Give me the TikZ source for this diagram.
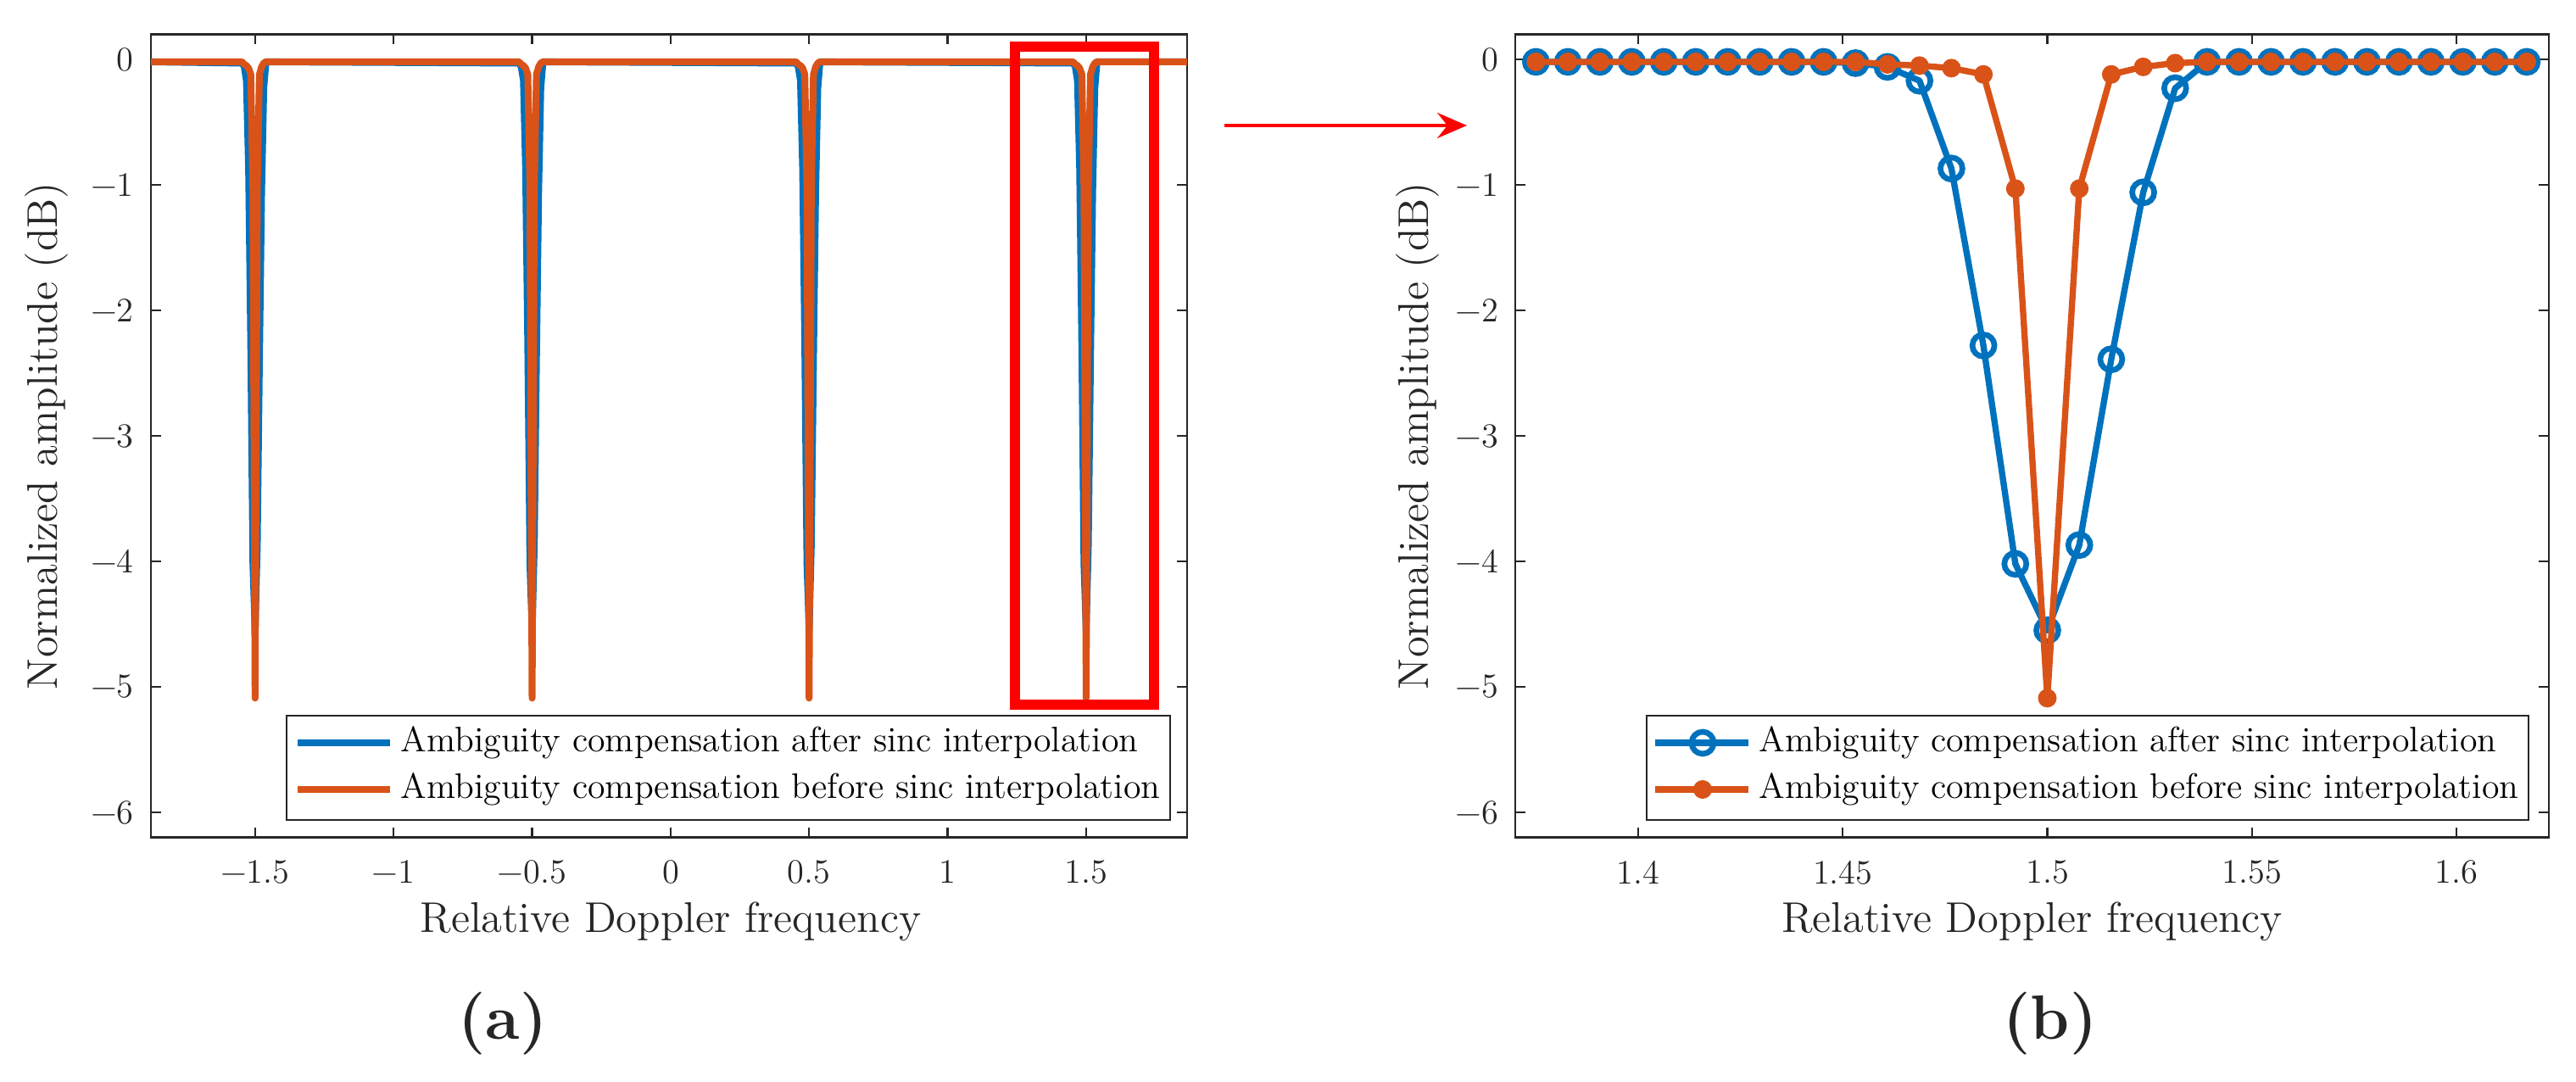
\documentclass[tikz,border=0pt]{standalone}
\usepackage{fontspec}
\usetikzlibrary{arrows.meta}
\definecolor{mblue}{HTML}{0072BD}
\definecolor{morange}{HTML}{D95319}
\newcommand{\fs}[1]{\fontsize{#1}{#1}\selectfont}
\tikzset{
  frame/.style={draw=black!85, line width=0.7pt},
  tick/.style={draw=black!85, line width=0.7pt},
  ticklab/.style={font=\fs{11.5pt}, text=black!85},
  axlab/.style={font=\fs{14.4pt}, text=black!85},
  legtext/.style={font=\fs{11.9pt}, text=black, anchor=west, inner sep=0pt},
  bmark/.style={circle, draw=mblue, line width=1.9pt, minimum size=0.26cm, inner sep=0pt},
  omark/.style={circle, fill=morange, minimum size=0.22cm, inner sep=0pt},
}
\begin{document}
\begin{tikzpicture}
\useasboundingbox (0,0) rectangle (30.38,12.75);
\def\olist{-0.02/-6,-0.04/-5,-0.05/-4,-0.07/-3,-0.12/-2,-1.03/-1,-5.09/0,-1.03/1,-0.12/2,-0.06/3,-0.03/4,-0.02/5}
% ---------- left plot ----------
\begin{scope}[shift={(7.909,12.05)}, xscale=3.267, yscale=1.48]
  \draw[frame] (-1.876,-6.2) rectangle (1.864,0.2);
  \foreach \v in {0,-1,...,-6}{
    \draw[tick] (-1.876,\v) -- ++(0.037,0);
    \draw[tick] (1.864,\v) -- ++(-0.037,0);
    \node[ticklab, anchor=east] at (-1.90,\v) {\ifnum\v<0 −\fi\the\numexpr-\v\relax};
  }
  \foreach \x/\l in {-1.5/−1.5,-1/−1,-0.5/−0.5,0/0,0.5/0.5,1/1,1.5/1.5}{
    \draw[tick] (\x,-6.2) -- ++(0,0.08);
    \draw[tick] (\x,0.2) -- ++(0,-0.08);
    \node[ticklab, anchor=north] at (\x,-6.3) {\l};
  }
  % blue dips
  \draw[mblue, line width=2.3pt, line join=round]
    (-1.876,-0.02)
    \foreach \c in {-1.5,-0.5,0.5,1.5}{
      -- ({\c-6/128},-0.03) -- ({\c-5/128},-0.06) -- ({\c-4/128},-0.17) -- ({\c-3/128},-0.87)
      -- ({\c-2/128},-2.28) -- ({\c-1/128},-4.02) -- (\c,-4.55) -- ({\c+1/128},-3.87)
      -- ({\c+2/128},-2.39) -- ({\c+3/128},-1.06) -- ({\c+4/128},-0.23) -- ({\c+5/128},-0.02)
    } -- (1.864,-0.02);
  % orange dips
  \draw[morange, line width=2.3pt, line join=round]
    (-1.876,-0.02)
    \foreach \c in {-1.5,-0.5,0.5,1.5}{
      -- ({\c-6/128},-0.02) -- ({\c-5/128},-0.04) -- ({\c-4/128},-0.05) -- ({\c-3/128},-0.07)
      -- ({\c-2/128},-0.12) -- ({\c-1/128},-1.03) -- (\c,-5.09) -- ({\c+1/128},-1.03)
      -- ({\c+2/128},-0.12) -- ({\c+3/128},-0.06) -- ({\c+4/128},-0.03) -- ({\c+5/128},-0.02)
    } -- (1.864,-0.02);
  \node[axlab] (xla) at (0,-6.87) {Relative Doppler frequency};
  \node[axlab, rotate=90] (yla) at (-2.254,-3.0) {Normalized amplitude (dB)};
\end{scope}
% left legend
\draw[black!85, fill=white, line width=0.6pt] (3.38,3.08) rectangle (13.80,4.31);
\draw[mblue, line width=2.3pt] (3.51,3.99) -- (4.60,3.99);
\node[legtext] (la1) at (4.72,3.99) {Ambiguity compensation after sinc interpolation};
\draw[morange, line width=2.3pt] (3.51,3.44) -- (4.60,3.44);
\node[legtext] (la2) at (4.72,3.44) {Ambiguity compensation before sinc interpolation};
% red box
\draw[red, line width=3.3pt] (11.97,4.44) rectangle (13.61,12.20);
\coordinate (arrS) at (14.44,11.27);
\coordinate (arrE) at (17.30,11.27);
\draw[red, line width=1.2pt, -{Stealth[length=0.35cm,width=0.3cm,inset=0.12cm]}] (arrS) -- (arrE);
\node[font=\fs{21pt}\bfseries, text=black!85] (lab-a) at (5.93,0.68) {(a)};
% ---------- right plot ----------
\begin{scope}[shift={(-48.23,12.05)}, xscale=48.25, yscale=1.48]
  \draw[frame] (1.37,-6.2) rectangle (1.6226,0.2);
  \foreach \v in {0,-1,...,-6}{
    \draw[tick] (1.37,\v) -- ++(0.0025,0);
    \draw[tick] (1.6226,\v) -- ++(-0.0025,0);
    \node[ticklab, anchor=east] at (1.3684,\v) {\ifnum\v<0 −\fi\the\numexpr-\v\relax};
  }
  \foreach \x in {1.4,1.45,1.5,1.55,1.6}{
    \draw[tick] (\x,-6.2) -- ++(0,0.08);
    \draw[tick] (\x,0.2) -- ++(0,-0.08);
    \node[ticklab, anchor=north] at (\x,-6.3) {\x};
  }
  \draw[mblue, line width=2.1pt, line join=round]
    ({1.5-16/128},-0.02) -- ({1.5-7/128},-0.02) -- ({1.5-6/128},-0.03) -- ({1.5-5/128},-0.06)
    -- ({1.5-4/128},-0.17) -- ({1.5-3/128},-0.87) -- ({1.5-2/128},-2.28) -- ({1.5-1/128},-4.02)
    -- (1.5,-4.55) -- ({1.5+1/128},-3.87) -- ({1.5+2/128},-2.39) -- ({1.5+3/128},-1.06)
    -- ({1.5+4/128},-0.23) -- ({1.5+5/128},-0.02) -- ({1.5+15/128},-0.02);
  \foreach \v/\k in {-0.02/-16,-0.02/-15,-0.02/-14,-0.02/-13,-0.02/-12,-0.02/-11,-0.02/-10,-0.02/-9,-0.02/-8,-0.02/-7,-0.03/-6,-0.06/-5,-0.17/-4,-0.87/-3,-2.28/-2,-4.02/-1,-4.55/0,-3.87/1,-2.39/2,-1.06/3,-0.23/4,-0.02/5,-0.02/6,-0.02/7,-0.02/8,-0.02/9,-0.02/10,-0.02/11,-0.02/12,-0.02/13,-0.02/14,-0.02/15}
    \node[bmark] (b\k) at ({1.5+\k/128},\v) {};
  \draw[morange, line width=2.1pt, line join=round]
    ({1.5-16/128},-0.02) -- ({1.5-6/128},-0.02) -- ({1.5-5/128},-0.04) -- ({1.5-4/128},-0.05)
    -- ({1.5-3/128},-0.07) -- ({1.5-2/128},-0.12) -- ({1.5-1/128},-1.03) -- (1.5,-5.09)
    -- ({1.5+1/128},-1.03) -- ({1.5+2/128},-0.12) -- ({1.5+3/128},-0.06) -- ({1.5+4/128},-0.03)
    -- ({1.5+5/128},-0.02) -- ({1.5+15/128},-0.02);
  \foreach \k in {-16,...,-7}
    \node[omark] (o\k) at ({1.5+\k/128},-0.02) {};
  \foreach \v/\k in \olist
    \node[omark] (o\k) at ({1.5+\k/128},\v) {};
  \foreach \k in {6,...,15}
    \node[omark] (o\k) at ({1.5+\k/128},-0.02) {};
  \node[axlab] (xlb) at (1.4963,-6.87) {Relative Doppler frequency};
  \node[axlab, rotate=90] (ylb) at (1.3460,-3.0) {Normalized amplitude (dB)};
\end{scope}
% right legend
\draw[black!85, fill=white, line width=0.6pt] (19.42,3.08) rectangle (29.82,4.31);
\draw[mblue, line width=2.1pt] (19.52,3.99) -- (20.62,3.99);
\node[bmark] (lb1m) at (20.08,3.99) {};
\node[legtext] (lb1) at (20.74,3.99) {Ambiguity compensation after sinc interpolation};
\draw[morange, line width=2.1pt] (19.52,3.44) -- (20.62,3.44);
\node[omark] (lb2m) at (20.08,3.44) {};
\node[legtext] (lb2) at (20.74,3.44) {Ambiguity compensation before sinc interpolation};
\node[font=\fs{21pt}\bfseries, text=black!85] (lab-b) at (24.18,0.68) {(b)};
\end{tikzpicture}
\end{document}
